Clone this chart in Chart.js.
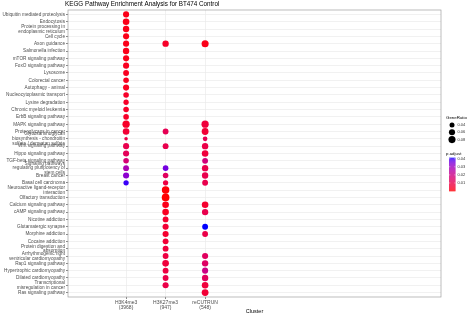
<!DOCTYPE html>
<html>
<head>
<meta charset="utf-8">
<script src="https://cdn.jsdelivr.net/npm/chart.js@4/dist/chart.umd.min.js"></script>
<style>
  html, body { margin: 0; padding: 0; background: #fff; }
  canvas { display: block; }
</style>
</head>
<body>
<canvas id="graficoKegg" width="474" height="316"></canvas>
<script>
// rutas KEGG, de arriba a abajo ("\n" = salto de linea en la etiqueta)
const rutas = [
    'Ubiquitin mediated proteolysis',
    'Endocytosis',
    'Protein processing in\nendoplasmic reticulum',
    'Cell cycle',
    'Axon guidance',
    'Salmonella infection',
    'mTOR signaling pathway',
    'FoxO signaling pathway',
    'Lysosome',
    'Colorectal cancer',
    'Autophagy - animal',
    'Nucleocytoplasmic transport',
    'Lysine degradation',
    'Chronic myeloid leukemia',
    'ErbB signaling pathway',
    'MAPK signaling pathway',
    'Proteoglycans in cancer',
    'Glycosaminoglycan\nbiosynthesis - chondroitin\nsulfate / dermatan sulfate',
    'Wnt signaling pathway',
    'Hippo signaling pathway',
    'TGF-beta signaling pathway',
    'Signaling pathways\nregulating pluripotency of\nstem cells',
    'Breast cancer',
    'Basal cell carcinoma',
    'Neuroactive ligand-receptor\ninteraction',
    'Olfactory transduction',
    'Calcium signaling pathway',
    'cAMP signaling pathway',
    'Nicotine addiction',
    'Glutamatergic synapse',
    'Morphine addiction',
    'Cocaine addiction',
    'Protein digestion and\nabsorption',
    'Arrhythmogenic right\nventricular cardiomyopathy',
    'Rap1 signaling pathway',
    'Hypertrophic cardiomyopathy',
    'Dilated cardiomyopathy',
    'Transcriptional\nmisregulation in cancer',
    'Ras signaling pathway'
];

const clusters = ['H3K4me3\n(3968)', 'H3K27me3\n(947)', 'reCUTRUN\n(548)'];

// GeneRatio por cluster (null = sin punto)
const ratioH3K4me3 = [0.060, 0.070, 0.065, 0.060, 0.060, 0.065, 0.060, 0.060, 0.055, 0.050,
    0.060, 0.050, 0.045, 0.050, 0.050, 0.085, 0.070, 0.020, 0.060, 0.060,
    0.050, 0.055, 0.060, 0.045, null, null, null, null, null, null,
    null, null, null, null, null, null, null, null, null];
const ratioH3K27me3 = [null, null, null, null, 0.065, null, null, null, null, null,
    null, null, null, null, null, null, 0.055, null, 0.055, null,
    null, 0.050, 0.050, 0.045, 0.090, 0.095, 0.070, 0.070, 0.055, 0.060,
    0.060, 0.055, 0.055, 0.055, 0.070, 0.055, 0.055, 0.060, null];
const ratioReCUTRUN = [null, null, null, null, 0.080, null, null, null, null, null,
    null, null, null, null, null, 0.085, 0.075, 0.035, 0.065, 0.070,
    0.055, 0.065, 0.065, 0.055, null, null, 0.070, 0.065, null, 0.055,
    0.055, null, null, 0.060, 0.065, 0.060, 0.065, 0.070, 0.075];

// p.adjust por cluster
const padjH3K4me3 = [0.002, 0.002, 0.002, 0.002, 0.002, 0.002, 0.002, 0.003, 0.003, 0.003,
    0.003, 0.004, 0.004, 0.004, 0.004, 0.004, 0.006, 0.009, 0.010, 0.012,
    0.017, 0.028, 0.033, 0.040, null, null, null, null, null, null,
    null, null, null, null, null, null, null, null, null];
const padjH3K27me3 = [null, null, null, null, 0.004, null, null, null, null, null,
    null, null, null, null, null, null, 0.011, null, 0.010, null,
    null, 0.036, 0.013, 0.008, 0.0005, 0.0001, 0.002, 0.003, 0.005, 0.006,
    0.005, 0.006, 0.007, 0.008, 0.007, 0.008, 0.009, 0.009, null];
const padjReCUTRUN = [null, null, null, null, 0.002, null, null, null, null, null,
    null, null, null, null, null, 0.007, 0.006, 0.011, 0.009, 0.007,
    0.018, 0.010, 0.010, 0.010, null, null, 0.005, 0.010, null, 0.0412,
    0.009, null, null, 0.013, 0.014, 0.020, 0.013, 0.007, 0.006];

const ticksGeneRatio = [0.04, 0.06, 0.08];
const ticksPadj = [0.01, 0.02, 0.03, 0.04];

const fuente = '"Liberation Sans", Arial, sans-serif';

// ---- color rojo -> azul interpolado en Lab (como ggplot) ----
function aLab(r, g, b) {
    const lin = c => { c /= 255; return c <= 0.04045 ? c / 12.92 : Math.pow((c + 0.055) / 1.055, 2.4); };
    const R = lin(r), G = lin(g), B = lin(b);
    const X = (0.4124 * R + 0.3576 * G + 0.1805 * B) / 0.95047;
    const Y = 0.2126 * R + 0.7152 * G + 0.0722 * B;
    const Z = (0.0193 * R + 0.1192 * G + 0.9505 * B) / 1.08883;
    const f = t => t > 0.008856 ? Math.cbrt(t) : 7.787 * t + 16 / 116;
    return [116 * f(Y) - 16, 500 * (f(X) - f(Y)), 200 * (f(Y) - f(Z))];
}
function deLab(L, a, b) {
    const fy = (L + 16) / 116, fx = fy + a / 500, fz = fy - b / 200;
    const fi = t => t > 0.206893 ? t * t * t : (t - 16 / 116) / 7.787;
    const X = fi(fx) * 0.95047, Y = fi(fy), Z = fi(fz) * 1.08883;
    const R = 3.2406 * X - 1.5372 * Y - 0.4986 * Z;
    const G = -0.9689 * X + 1.8758 * Y + 0.0415 * Z;
    const B = 0.0557 * X - 0.2040 * Y + 1.0570 * Z;
    const gam = c => {
        c = c <= 0.0031308 ? 12.92 * c : 1.055 * Math.pow(c, 1 / 2.4) - 0.055;
        return Math.round(Math.max(0, Math.min(1, c)) * 255);
    };
    return `rgb(${gam(R)},${gam(G)},${gam(B)})`;
}
const labRojo = aLab(255, 0, 0);
const labAzul = aLab(0, 0, 255);

const todasP = [...padjH3K4me3, ...padjH3K27me3, ...padjReCUTRUN].filter(v => v !== null);
const pMin = Math.min(...todasP);
const pMax = Math.max(...todasP);

function colorP(p) {
    const t = Math.max(0, Math.min(1, (p - pMin) / (pMax - pMin)));
    return deLab(
        labRojo[0] + (labAzul[0] - labRojo[0]) * t,
        labRojo[1] + (labAzul[1] - labRojo[1]) * t,
        labRojo[2] + (labAzul[2] - labRojo[2]) * t
    );
}
function radio(ratio) {
    return 12.5 * Math.sqrt(ratio);
}

function serie(indice, ratios, padjs) {
    const puntos = [];
    const colores = [];
    ratios.forEach((r, i) => {
        if (r === null) return;
        puntos.push({ x: indice + 1, y: i + 1, r: radio(r) });
        colores.push(colorP(padjs[i]));
    });
    return {
        label: clusters[indice],
        data: puntos,
        backgroundColor: colores,
        borderWidth: 0
    };
}

// borde del panel + leyendas a la derecha
const panelYLeyenda = {
    id: 'panelYLeyenda',
    afterDraw(chart) {
        const ctx = chart.ctx;
        const a = chart.chartArea;
        ctx.save();
        ctx.strokeStyle = '#a0a0a0';
        ctx.lineWidth = 0.7;
        ctx.strokeRect(a.left, a.top, a.right - a.left, a.bottom - a.top);

        // titulo
        ctx.fillStyle = '#000';
        ctx.font = `6.3px ${fuente}`;
        ctx.textBaseline = 'middle';
        ctx.textAlign = 'left';
        ctx.fillText('KEGG Pathway Enrichment Analysis for BT474 Control', a.left - 3, 4.5);

        // leyenda GeneRatio
        const lx = 446;
        ctx.font = `4.4px ${fuente}`;
        ctx.fillText('GeneRatio', lx, 118);
        ctx.font = `4px ${fuente}`;
        ticksGeneRatio.forEach((v, i) => {
            const cy = 125 + i * 7.3;
            ctx.beginPath();
            ctx.fillStyle = '#000';
            ctx.arc(lx + 6, cy, radio(v), 0, Math.PI * 2);
            ctx.fill();
            ctx.fillStyle = '#333';
            ctx.fillText(v.toFixed(2), lx + 11.5, cy);
        });

        // leyenda p.adjust
        ctx.fillStyle = '#000';
        ctx.font = `4.4px ${fuente}`;
        ctx.fillText('p.adjust', lx, 154);
        const top = 157.7, bottom = 191, x0 = 449, w = 6.5;
        for (let yy = top; yy < bottom; yy += 0.5) {
            const p = pMax - (yy - top) / (bottom - top) * (pMax - pMin);
            ctx.fillStyle = colorP(p);
            ctx.fillRect(x0, yy, w, 0.6);
        }
        ctx.font = `4px ${fuente}`;
        ticksPadj.forEach(v => {
            const yy = top + (pMax - v) / (pMax - pMin) * (bottom - top);
            ctx.strokeStyle = '#fff';
            ctx.lineWidth = 0.4;
            ctx.beginPath();
            ctx.moveTo(x0, yy); ctx.lineTo(x0 + 1.3, yy);
            ctx.moveTo(x0 + w - 1.3, yy); ctx.lineTo(x0 + w, yy);
            ctx.stroke();
            ctx.fillStyle = '#333';
            ctx.fillText(v.toFixed(2), x0 + w + 2, yy);
        });
        ctx.restore();
    }
};

const ctx = document.getElementById('graficoKegg').getContext('2d');
new Chart(ctx, {
    type: 'bubble',
    data: {
        datasets: [
            serie(0, ratioH3K4me3, padjH3K4me3),
            serie(1, ratioH3K27me3, padjH3K27me3),
            serie(2, ratioReCUTRUN, padjReCUTRUN)
        ]
    },
    options: {
        responsive: false,
        animation: false,
        events: [],
        layout: { padding: { top: 10, right: 33, left: 0, bottom: 0 } },
        plugins: {
            legend: { display: false },
            tooltip: { enabled: false }
        },
        scales: {
            x: {
                type: 'linear',
                min: -0.47,
                max: 8.97,
                afterBuildTicks: s => { s.ticks = clusters.map((_, i) => ({ value: i + 1 })); },
                afterFit: s => { s.height = 19; },
                ticks: {
                    autoSkip: false,
                    maxRotation: 0,
                    padding: 1,
                    color: '#4d4d4d',
                    font: { family: fuente, size: 5, lineHeight: 1.0 },
                    callback: v => clusters[v - 1] ? clusters[v - 1].split('\n') : ''
                },
                grid: { color: '#ebebeb', lineWidth: 0.7, tickLength: 2, tickColor: '#555' },
                border: { display: false },
                title: {
                    display: true,
                    text: 'Cluster',
                    color: '#000',
                    font: { family: fuente, size: 5.5 },
                    padding: { top: 0, bottom: 1.5 }
                }
            },
            y: {
                type: 'linear',
                reverse: true,
                min: 0.4,
                max: rutas.length + 0.6,
                afterBuildTicks: s => { s.ticks = rutas.map((_, i) => ({ value: i + 1 })); },
                afterFit: s => { s.width = 68; },
                ticks: {
                    autoSkip: false,
                    padding: 1,
                    color: '#4d4d4d',
                    font: { family: fuente, size: 4.7, lineHeight: 1.0 },
                    callback: v => rutas[v - 1] ? rutas[v - 1].split('\n') : ''
                },
                grid: { color: '#ebebeb', lineWidth: 0.7, tickLength: 2, tickColor: '#555' },
                border: { display: false }
            }
        }
    },
    plugins: [panelYLeyenda]
});
</script>
</body>
</html>
